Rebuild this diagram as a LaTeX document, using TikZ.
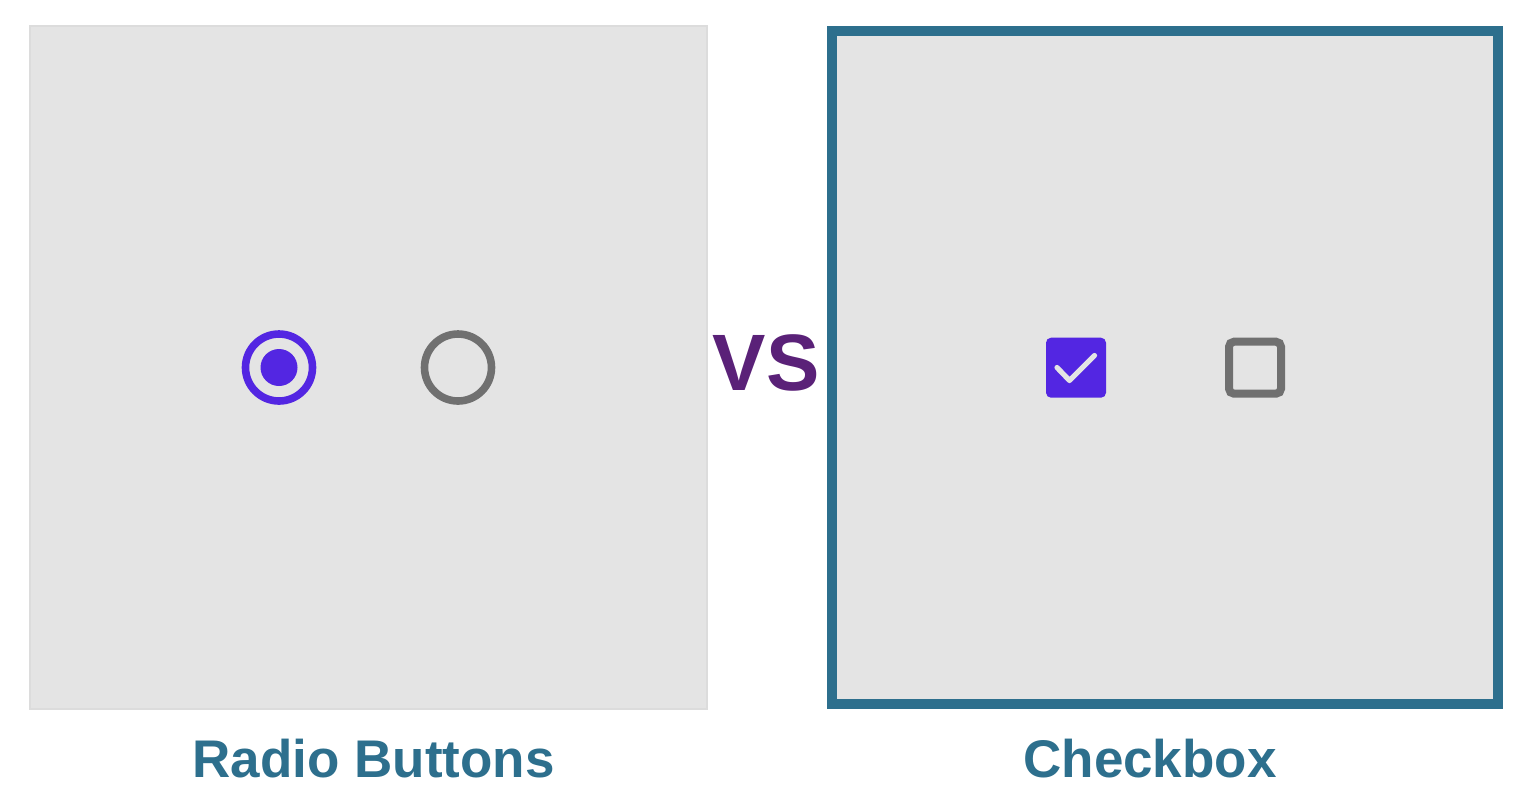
\documentclass[tikz,border=0pt]{standalone}
\usepackage{fontspec}
\setmainfont{Liberation Sans}
\definecolor{panelgray}{HTML}{E4E4E4}
\definecolor{paneledge}{HTML}{DCDCDC}
\definecolor{teal}{HTML}{2D6F8D}
\definecolor{accent}{HTML}{5326E2}
\definecolor{offgray}{HTML}{707070}
\definecolor{vspurple}{HTML}{5A2178}
\begin{document}
\begin{tikzpicture}[x=0.5pt,y=-0.5pt,
  label text/.style={font=\fontsize{26.5}{30}\selectfont\bfseries, text=teal, anchor=base, inner sep=0pt},
  vs text/.style={font=\fontsize{40}{44}\selectfont\bfseries, text=vspurple, inner sep=0pt},
  radio ring/.style={circle, draw=#1, line width=3.8pt, minimum size=33.5pt, inner sep=0pt},
  check box/.style={rounded corners=2.5pt}]
\useasboundingbox (0,0) rectangle (1536,800);
% left panel
\node[draw=paneledge, fill=panelgray, line width=1pt, minimum width=677*0.5pt, minimum height=683*0.5pt, inner sep=0pt] (left) at (368.5,367.5) {};
% right panel
\node[draw=teal, fill=panelgray, line width=5pt, minimum width=666*0.5pt, minimum height=673*0.5pt, inner sep=0pt] (right) at (1165,367.5) {};
% radio selected
\node[radio ring=accent] (rsel) at (279,367.5) {};
\node[circle, fill=accent, minimum size=18.5pt, inner sep=0pt] (rdot) at (rsel.center) {};
% radio unselected
\node[radio ring=offgray] (runsel) at (458,367.5) {};
% checked box
\node[fill=accent, rounded corners=2.5pt, minimum size=30pt, inner sep=0pt] (cbox) at (1076,367.7) {};
\coordinate (c1) at (1057,367.5);
\coordinate (c2) at (1069.5,380.5);
\coordinate (c3) at (1094.5,355.5);
\draw[panelgray, line width=2.6pt, line cap=round, line join=round] (c1) -- (c2) -- (c3);
% unchecked box
\node[draw=offgray, rounded corners=2.5pt, line width=4pt, minimum size=26pt, inner sep=0pt] (ubox) at (1255,367.7) {};
% VS
\node[vs text] (vs) at (766,363) {VS};
% labels
\node[label text] (lradio) at (373.5,777) {Radio Buttons};
\node[label text] (lcheck) at (1150,777) {Checkbox};
\end{tikzpicture}
\end{document}
